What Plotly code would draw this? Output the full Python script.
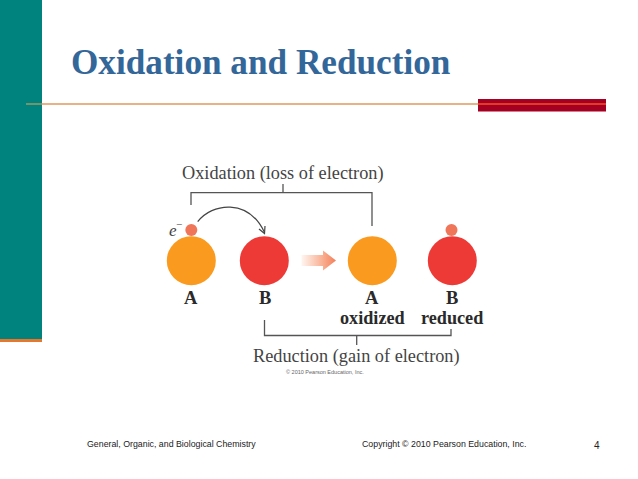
import plotly.graph_objects as go

# everything is placed on a pixel-sized axis, y pointing down
WIDTH = 638
HEIGHT = 479

TEAL = "#00827f"
ORANGE = "#fa9a1e"
RED = "#ee3a36"
ELECTRON = "#f0765a"
TITLE_BLUE = "#336699"
GREY = "#555555"

atom_x = [191.3, 264.3, 372.3, 452.3]
atom_y = [260.7, 260.7, 260.7, 260.7]
atom_colors = [ORANGE, RED, ORANGE, RED]
electron_x = [191.3, 451.5]
electron_y = [230, 230]

top_bracket_x = [191, 191, 372, 372]
top_bracket_y = [205, 192.7, 192.7, 226]
top_stem_x = [283, 283]
top_stem_y = [184, 192.7]
bottom_bracket_x = [264.5, 264.5, 451, 451]
bottom_bracket_y = [320, 335.5, 335.5, 329]
bottom_stem_x = [356.7, 356.7]
bottom_stem_y = [335.5, 345]
arrow_outline_x = [301.5, 323, 323, 336, 323, 323, 301.5, 301.5]
arrow_outline_y = [255, 255, 250.5, 260.5, 270.5, 266, 266, 255]

labels = [
    ("Oxidation (loss of electron)", 282.8, 173, 18.3, False, "#444444", "Liberation Serif"),
    ("Reduction (gain of electron)", 356.5, 356, 18.3, False, "#444444", "Liberation Serif"),
    ("A", 191, 298, 18.5, True, "#2a2a2a", "Liberation Serif"),
    ("B", 264.5, 298, 18.5, True, "#2a2a2a", "Liberation Serif"),
    ("A", 372, 298, 18.5, True, "#2a2a2a", "Liberation Serif"),
    ("B", 452, 298, 18.5, True, "#2a2a2a", "Liberation Serif"),
    ("oxidized", 372, 318, 18.2, True, "#2a2a2a", "Liberation Serif"),
    ("reduced", 452, 318, 18.2, True, "#2a2a2a", "Liberation Serif"),
    ("© 2010 Pearson Education, Inc.", 325, 371.5, 5.5, False, "#666666", "Liberation Sans"),
    ("General, Organic, and Biological Chemistry", 171, 444, 8.8, False, "#222222", "Liberation Sans"),
    ("Copyright © 2010 Pearson Education, Inc.", 444, 444, 8.8, False, "#222222", "Liberation Sans"),
    ("4", 597, 445, 10, False, "#222222", "Liberation Sans"),
]

fig = go.Figure()

# gradient block arrow in the middle
fig.add_trace(go.Scatter(
    x=arrow_outline_x, y=arrow_outline_y, mode="lines", fill="toself",
    line=dict(width=0, color="rgba(0,0,0,0)"),
    fillgradient=dict(type="horizontal",
                      colorscale=[[0, "#fff6f1"], [0.6, "#f9b093"], [1, "#f47f58"]]),
))

for xs, ys in [(top_bracket_x, top_bracket_y), (top_stem_x, top_stem_y),
               (bottom_bracket_x, bottom_bracket_y), (bottom_stem_x, bottom_stem_y)]:
    fig.add_trace(go.Scatter(x=xs, y=ys, mode="lines", line=dict(color=GREY, width=1.3)))

fig.add_trace(go.Scatter(
    x=atom_x, y=atom_y, mode="markers",
    marker=dict(size=49, color=atom_colors, line=dict(width=0)),
))
fig.add_trace(go.Scatter(
    x=electron_x, y=electron_y, mode="markers",
    marker=dict(size=12, color=ELECTRON, line=dict(width=0)),
))

shapes = [
    dict(type="rect", x0=0, x1=42, y0=0, y1=339, fillcolor=TEAL, line_width=0, layer="below"),
    dict(type="rect", x0=0, x1=42, y0=339, y1=342, fillcolor="#e8772e", line_width=0, layer="below"),
    dict(type="rect", x0=478, x1=606, y0=99, y1=111.5, fillcolor="#a50021", line_width=0, layer="below"),
    dict(type="line", x0=26, x1=42, y0=104, y1=104, line=dict(color="#9c9a62", width=1.5), layer="below"),
    dict(type="line", x0=42, x1=478, y0=104, y1=104, line=dict(color="#e0995e", width=1.5), layer="below"),
    dict(type="line", x0=478, x1=606, y0=104, y1=104, line=dict(color="#f4502a", width=1.5), layer="below"),
    # electron transfer arc and its head
    dict(type="path", path="M 197.7 221.7 C 212 203, 248 198, 264.3 232",
         line=dict(color="#444444", width=1.2)),
    dict(type="path", path="M 259 229 L 264.5 233.5 L 265 226", line=dict(color="#444444", width=1.2)),
]

annotations = [
    dict(x=68.5, y=62, text="<b>Oxidation and Reduction</b>", showarrow=False, xanchor="left",
         yanchor="middle", font=dict(family="Liberation Serif", size=35.2, color=TITLE_BLUE)),
    dict(x=172.5, y=230, text="e", showarrow=False,
         font=dict(family="Liberation Serif", size=17, style="italic", color="#444444")),
    dict(x=178.5, y=224, text="−", showarrow=False,
         font=dict(family="Liberation Serif", size=11, color="#444444")),
]
for text, x, y, size, bold, color, family in labels:
    annotations.append(dict(
        x=x, y=y, text=f"<b>{text}</b>" if bold else text, showarrow=False,
        xanchor="center", yanchor="middle", font=dict(family=family, size=size, color=color),
    ))

fig.update_layout(
    width=WIDTH, height=HEIGHT, margin=dict(l=0, r=0, t=0, b=0),
    paper_bgcolor="white", plot_bgcolor="white", showlegend=False,
    shapes=shapes, annotations=annotations,
)
fig.update_xaxes(range=[0, WIDTH], visible=False, fixedrange=True)
fig.update_yaxes(range=[HEIGHT, 0], visible=False, fixedrange=True)

# the page's default body margin would push the slide 8px in
fig.write_html("out.html", config={"displayModeBar": False},
               post_script="document.body.style.margin = '0';")
